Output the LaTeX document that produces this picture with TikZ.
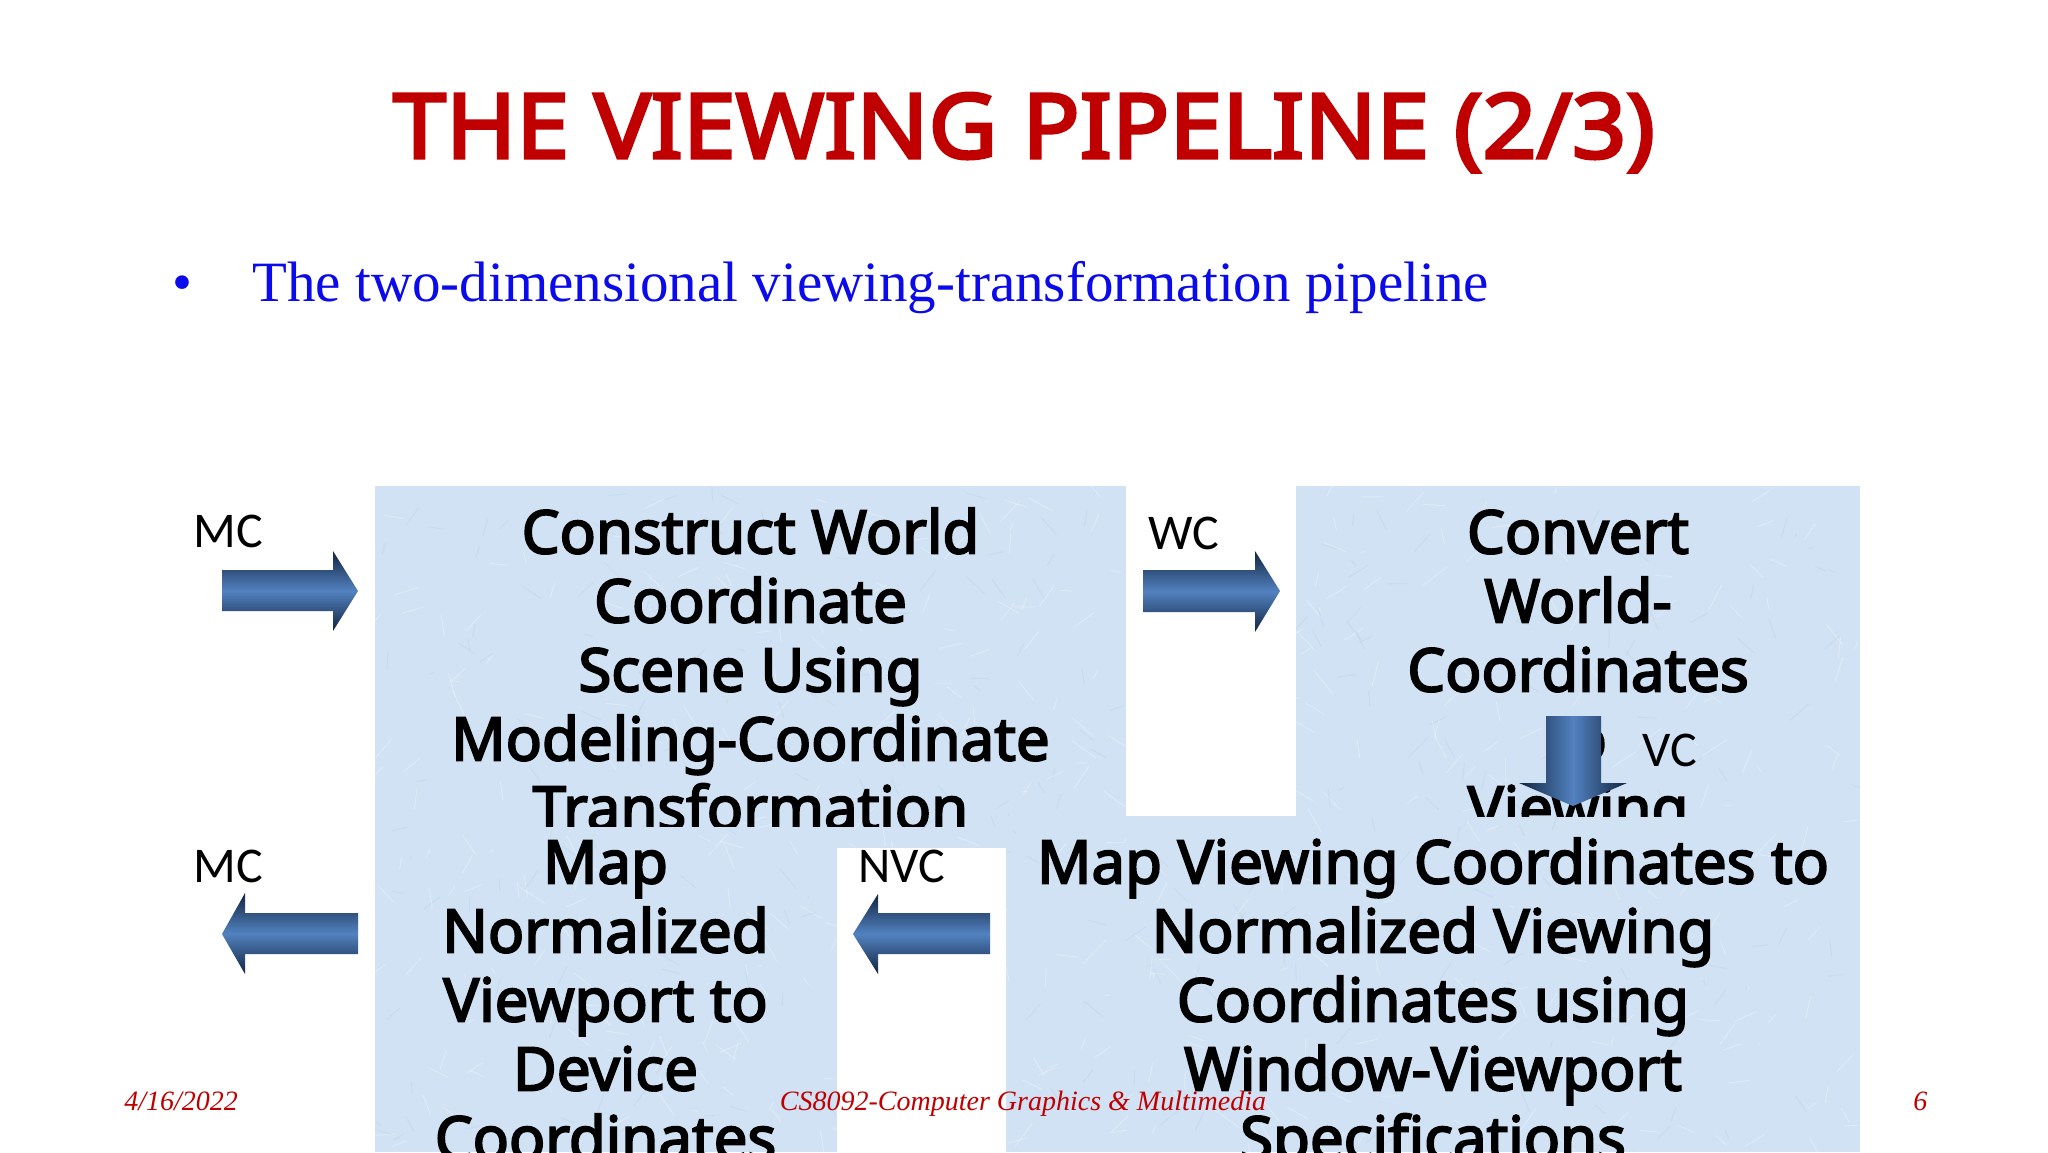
\documentclass[tikz,border=0pt]{standalone}
\usepackage{fontspec}
\setmainfont{Liberation Serif}
\newfontfamily\boxfont[FakeBold=3.2]{Noto Sans}
\newfontfamily\titlefont[FakeBold=3.6,FakeStretch=1.06]{Noto Sans}
\newfontfamily\labelfont{Carlito}
\definecolor{boxblue}{RGB}{208,226,243}
\definecolor{texdark}{RGB}{175,200,226}
\definecolor{titlered}{RGB}{192,0,0}
\definecolor{bulletblue}{RGB}{10,10,235}
\definecolor{arrowdark}{RGB}{18,36,64}
\definecolor{arrowmid}{RGB}{82,130,192}
\begin{document}
\begin{tikzpicture}[x=0.5pt,y=-0.5pt,
  lbl/.style={font=\labelfont\fontsize{25}{30}\selectfont, anchor=base west, inner sep=0pt},
  boxtext/.style={font=\boxfont\fontsize{30}{34.5}\selectfont, align=center, anchor=north, inner sep=0pt},
  arrowH/.style={top color=arrowdark, bottom color=arrowdark, middle color=arrowmid},
  arrowV/.style={left color=arrowdark, right color=arrowdark, middle color=arrowmid},
  foot/.style={font=\itshape\fontsize{14}{16}\selectfont, text=titlered, inner sep=0pt}]
\useasboundingbox (0,0) rectangle (2048,1152);
\fill[white] (0,0) rectangle (2048,1152);

% title and bullet
\node[font=\titlefont\fontsize{44.8}{52}\selectfont, text=titlered, anchor=base, inner sep=0pt] (title) at (1024,158) {THE VIEWING PIPELINE (2/3)};
\node[font=\fontsize{28.5}{34}\selectfont, text=bulletblue, anchor=base west, inner sep=0pt] (bullet) at (172,301) {•};
\node[font=\fontsize{28.5}{34}\selectfont, text=bulletblue, anchor=base west, inner sep=0pt] (subtitle) at (252,301) {The two-dimensional viewing-transformation pipeline};

% panels
\fill[boxblue] (375,486) rectangle (1126,816);
\fill[boxblue] (1296,486) rectangle (1860,816);
\fill[boxblue] (375,816) rectangle (1860,1152);
% subtle paper texture
\begin{scope}
\clip (375,486) rectangle (1126,816) (1296,486) rectangle (1860,816) (375,816) rectangle (1860,1152);
\pgfmathsetseed{7}
\foreach \i in {1,...,500}{
  \pgfmathsetmacro{\xa}{375+rnd*1485}
  \pgfmathsetmacro{\ya}{486+rnd*666}
  \pgfmathsetmacro{\dx}{(rnd-0.5)*50}
  \pgfmathsetmacro{\dy}{(rnd-0.5)*50}
  \draw[white, opacity=0.3, line width=0.5pt] (\xa,\ya) -- ++(\dx,\dy);
}
\foreach \i in {1,...,300}{
  \pgfmathsetmacro{\xa}{375+rnd*1485}
  \pgfmathsetmacro{\ya}{486+rnd*666}
  \pgfmathsetmacro{\dx}{(rnd-0.5)*40}
  \pgfmathsetmacro{\dy}{(rnd-0.5)*40}
  \draw[texdark, opacity=0.25, line width=0.5pt] (\xa,\ya) -- ++(\dx,\dy);
}
\end{scope}
\fill[white] (837,848) rectangle (1006,1152);

% texts of upper panels (cut off)
\begin{scope}
\clip (375,486) rectangle (1126,826);
\node[boxtext] (construct) at (750.5,504.7) {\strut Construct World\\Coordinate\\Scene Using\\Modeling-Coordinate\\Transformation};
\end{scope}
\begin{scope}
\clip (1296,486) rectangle (1860,816);
\node[boxtext] (convert) at (1578,504.7) {\strut Convert\\World-\\Coordinates\\to\\Viewing\\Coordinates};
\end{scope}

% texts of lower panels
\begin{scope}
\clip (0,0) rectangle (2048,1152);
\node[boxtext] (mapnorm) at (605.5,834.7) {\strut Map\\Normalized\\Viewport to\\Device\\Coordinates};
\node[boxtext] (mapview) at (1433,834.7) {\strut Map Viewing Coordinates to\\Normalized Viewing\\Coordinates using\\Window-Viewport\\Specifications};
\end{scope}

% labels
\node[lbl] (mc1) at (193,547) {MC};
\node[lbl] (wc) at (1148,549) {WC};
\node[lbl] (vc) at (1642,766) {VC};
\node[lbl] (mc2) at (193,882) {MC};
\node[lbl] (nvc) at (858,882) {NVC};

% block arrows
\shade[arrowH] (222,570) -- (333,570) -- (333,551) -- (358,591) -- (333,631) -- (333,611) -- (222,611) -- cycle;
\shade[arrowH] (1143,570) -- (1255,570) -- (1255,551) -- (1280,591) -- (1255,632) -- (1255,612) -- (1143,612) -- cycle;
\shade[arrowV] (1546,716) -- (1601,716) -- (1601,783) -- (1627,783) -- (1573,806) -- (1519,783) -- (1546,783) -- cycle;
\shade[arrowH] (358,913) -- (245,913) -- (245,893) -- (222,934) -- (245,974) -- (245,954) -- (358,954) -- cycle;
\shade[arrowH] (990,913) -- (878,913) -- (878,894) -- (853,934) -- (878,974) -- (878,954) -- (990,954) -- cycle;

% footer
\node[foot, anchor=base west] (date) at (124,1110) {4/16/2022};
\node[foot, anchor=base] (course) at (1023,1110) {CS8092-Computer Graphics \& Multimedia};
\node[foot, anchor=base west] (page) at (1913,1110) {6};
\end{tikzpicture}
\end{document}
